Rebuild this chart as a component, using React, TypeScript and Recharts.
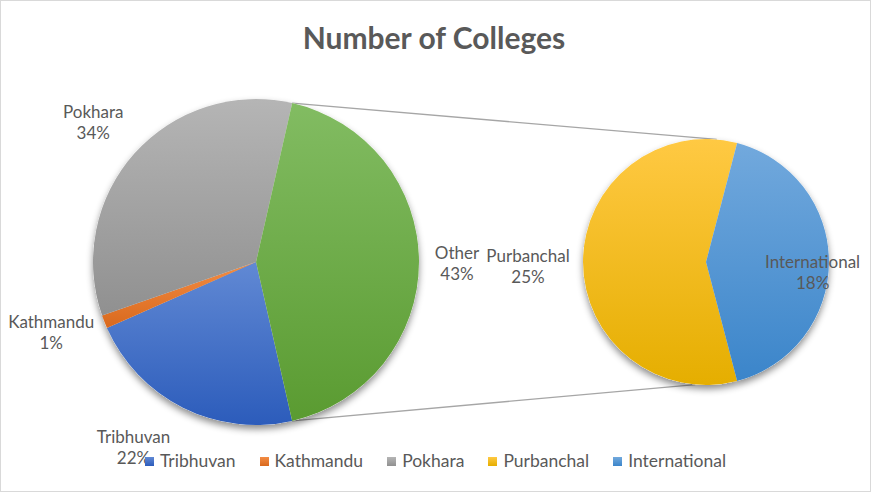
import { PieChart, Pie, Cell, Legend, Customized } from 'recharts';

// values are shares of all colleges (percent)
const mainNames = ['Tribhuvan', 'Kathmandu', 'Pokhara'];
const mainValues = [22, 1.3, 34];
const splitNames = ['Purbanchal', 'International'];
const splitValues = [25, 18];
const otherName = 'Other';
const chartTitle = 'Number of Colleges';

// top / bottom gradient stops per slice
const FILLS: Record<string, [string, string]> = {
  Tribhuvan: ['#6189d4', '#2c5cbb'],
  Kathmandu: ['#f38c44', '#d9691d'],
  Pokhara: ['#b5b5b5', '#909090'],
  Other: ['#82bc62', '#5a9b31'],
  Purbanchal: ['#ffc943', '#e5ae00'],
  International: ['#72a9dd', '#3b85ca'],
};

const LEFT = { cx: 256, cy: 262, r: 163 };
const RIGHT = { cx: 706, cy: 262, r: 123 };
const TEXT = '#595959';
const FONT = 'Lato, "Noto Sans", sans-serif';

// label placement tweaks: extra radius beyond the rim, angle shift in degrees
const LABEL_POS: Record<string, { r: number; a: number }> = {
  Tribhuvan: { r: 58, a: -7 },
  Kathmandu: { r: 53, a: -3 },
  Pokhara: { r: 52, a: 1 },
  Other: { r: 38, a: 0 },
  Purbanchal: { r: 55, a: 1 },
  International: { r: -16, a: -5 },
};

const sum = (a: number[]) => a.reduce((s, v) => s + v, 0);
const splitTotal = sum(splitValues);
const mainData = [
  ...mainNames.map((name, i) => ({ name, value: mainValues[i] })),
  { name: otherName, value: splitTotal },
];
const splitData = splitNames.map((name, i) => ({ name, value: splitValues[i] }));
const otherHalf = (splitTotal / sum(mainData.map((d) => d.value))) * 180;
const lastHalf = (splitValues[splitValues.length - 1] / splitTotal) * 180;

const RAD = Math.PI / 180;
const gradId = (name: string) => `grad-${name}`;

const renderLabel = (props: any) => {
  const { cx, cy, midAngle, outerRadius, name, value } = props;
  const pos = LABEL_POS[name] || { r: 30, a: 0 };
  const ang = (midAngle + pos.a) * RAD;
  const R = outerRadius + pos.r;
  const x = cx + R * Math.cos(ang);
  const y = cy - R * Math.sin(ang);
  return (
    <text x={x} y={y} textAnchor="middle" fill={TEXT} fontSize={17} fontFamily={FONT}>
      <tspan x={x} y={y - 3}>{name}</tspan>
      <tspan x={x} y={y + 18}>{`${Math.round(value)}%`}</tspan>
    </text>
  );
};

function Overlay() {
  const pt = (c: typeof LEFT, deg: number) => [
    c.cx + c.r * Math.cos(deg * RAD),
    c.cy - c.r * Math.sin(deg * RAD),
  ];
  const tilt = -5;
  const [ax, ay] = pt(LEFT, otherHalf);
  const [bx, by] = pt(RIGHT, 90 + tilt);
  const [cx2, cy2] = pt(LEFT, -otherHalf);
  const [dx, dy] = pt(RIGHT, 270 + tilt);
  return (
    <g>
      <text
        x={434}
        y={49}
        textAnchor="middle"
        fill={TEXT}
        fontSize={30}
        fontWeight="bold"
        fontFamily={FONT}
      >
        {chartTitle}
      </text>
      <line x1={ax} y1={ay} x2={bx} y2={by} stroke="#a6a6a6" strokeWidth={1.3} />
      <line x1={cx2} y1={cy2} x2={dx} y2={dy} stroke="#a6a6a6" strokeWidth={1.3} />
    </g>
  );
}

const legendNames = [...mainNames, ...splitNames];

const renderLegend = () => (
  <div
    style={{
      display: 'flex',
      justifyContent: 'center',
      width: 871,
      fontFamily: FONT,
      fontSize: 17.5,
      color: TEXT,
      lineHeight: '20px',
    }}
  >
    {legendNames.map((name, i) => (
      <div
        key={name}
        style={{ display: 'flex', alignItems: 'center', marginLeft: i === 0 ? 0 : 24 }}
      >
        <span
          style={{
            display: 'inline-block',
            width: 9,
            height: 9,
            marginRight: 6,
            background: `linear-gradient(${FILLS[name][0]}, ${FILLS[name][1]})`,
          }}
        />
        <span>{name}</span>
      </div>
    ))}
  </div>
);

export default function App() {
  return (
    <div
      style={{
        position: 'absolute',
        left: 0,
        top: 0,
        width: 871,
        height: 492,
        background: '#fff',
      }}
    >
      <PieChart width={871} height={492} margin={{ top: 0, right: 0, bottom: 0, left: 0 }}>
        <defs>
          {Object.keys(FILLS).map((k) => (
            <linearGradient key={k} id={gradId(k)} x1="0" y1="0" x2="0" y2="1">
              <stop offset="0%" stopColor={FILLS[k][0]} />
              <stop offset="100%" stopColor={FILLS[k][1]} />
            </linearGradient>
          ))}
          <filter id="pieShadow" x="-20%" y="-20%" width="140%" height="140%">
            <feDropShadow dx="0" dy="4" stdDeviation="3.5" floodColor="#000" floodOpacity="0.45" />
          </filter>
        </defs>
        {/* shadow discs under each pie */}
        <Pie
          data={mainData}
          dataKey="value"
          cx={LEFT.cx}
          cy={LEFT.cy}
          outerRadius={LEFT.r}
          startAngle={360 - otherHalf}
          endAngle={-otherHalf}
          stroke="none"
          isAnimationActive={false}
          legendType="none"
        >
          {mainData.map((d) => (
            <Cell key={d.name} fill="#fff" filter="url(#pieShadow)" />
          ))}
        </Pie>
        <Pie
          data={splitData}
          dataKey="value"
          cx={RIGHT.cx}
          cy={RIGHT.cy}
          outerRadius={RIGHT.r}
          startAngle={360 - lastHalf}
          endAngle={-lastHalf}
          stroke="none"
          isAnimationActive={false}
          legendType="none"
        >
          {splitData.map((d) => (
            <Cell key={d.name} fill="#fff" filter="url(#pieShadow)" />
          ))}
        </Pie>
        <Pie
          data={mainData}
          dataKey="value"
          nameKey="name"
          cx={LEFT.cx}
          cy={LEFT.cy}
          outerRadius={LEFT.r}
          startAngle={360 - otherHalf}
          endAngle={-otherHalf}
          stroke="none"
          label={renderLabel}
          labelLine={false}
          isAnimationActive={false}
        >
          {mainData.map((d) => (
            <Cell key={d.name} fill={`url(#${gradId(d.name)})`} />
          ))}
        </Pie>
        <Pie
          data={splitData}
          dataKey="value"
          nameKey="name"
          cx={RIGHT.cx}
          cy={RIGHT.cy}
          outerRadius={RIGHT.r}
          startAngle={360 - lastHalf}
          endAngle={-lastHalf}
          stroke="none"
          label={renderLabel}
          labelLine={false}
          isAnimationActive={false}
        >
          {splitData.map((d) => (
            <Cell key={d.name} fill={`url(#${gradId(d.name)})`} />
          ))}
        </Pie>
        <Customized component={<Overlay />} />
        <Legend
          content={renderLegend}
          wrapperStyle={{ position: 'absolute', left: 0, top: 451, width: 871, bottom: 'auto' }}
        />
      </PieChart>
      <div
        style={{
          position: 'absolute',
          inset: 0,
          border: '1px solid #d9d9d9',
          pointerEvents: 'none',
        }}
      />
    </div>
  );
}
